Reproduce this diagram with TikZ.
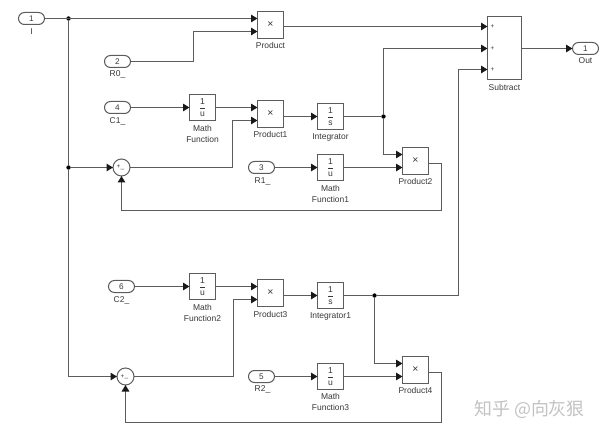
\documentclass[tikz,border=0pt]{standalone}
\usepackage{fontspec}
\setmainfont{Liberation Sans}
\newfontfamily\cjkwm{Noto Sans CJK SC}
\usetikzlibrary{arrows.meta}
\newcommand{\frc}[2]{$\displaystyle\frac{\hbox{#1}}{\hbox{\rule{0pt}{7.5pt}#2}}$}
\definecolor{ln}{gray}{0.36}
\definecolor{tx}{gray}{0.22}
\tikzset{
  x=1bp,y=-1bp,
  wire/.style={draw=ln,line width=1.2bp,-{Triangle[length=6.5bp,width=7.5bp,color=black!90]}},
  plain/.style={draw=ln,line width=1.2bp},
  blk/.style={draw=ln,line width=1.1bp,fill=white,outer sep=0pt,minimum width=26bp,minimum height=26bp,inner sep=0pt,text=tx,font=\fontsize{8.6}{9}\selectfont},
  prod/.style={blk,minimum height=27bp,font=\fontsize{10.5}{11}\selectfont},
  port/.style={draw=ln,line width=1bp,fill=white,outer sep=0pt,rounded corners=6bp,minimum width=26bp,minimum height=12bp,inner sep=0pt,text=tx,font=\fontsize{8.2}{9}\selectfont},
  sumb/.style={draw=ln,line width=1bp,circle,fill=white,outer sep=0pt,minimum size=17bp,inner sep=0pt},
  lab/.style={text=tx,font=\fontsize{8.5}{11}\selectfont,align=center,inner sep=0pt},
  sign/.style={text=tx,font=\fontsize{6.5}{7}\selectfont,inner sep=0pt},
  jct/.style={circle,fill=black,minimum size=4.4bp,inner sep=0pt},
}
\begin{document}
\begin{tikzpicture}
\useasboundingbox (0,0) rectangle (600,433);
\begin{scope}[shift={(0.5,0.5)}]
% inports and outport
\node[port] (in1) at (31,18) {1};
\node[port] (in2) at (117,61) {2};
\node[port] (in4) at (117,107) {4};
\node[port] (in3) at (261,167) {3};
\node[port] (in6) at (121,286) {6};
\node[port] (in5) at (261,376) {5};
\node[port] (out) at (585,48) {1};
% blocks
\node[prod] (p0) at (270,24.5) {×};
\node[prod] (p1) at (270,113.5) {×};
\node[prod] (p2) at (415,160.5) {×};
\node[prod] (p3) at (270,292.5) {×};
\node[prod] (p4) at (415,369.5) {×};
\node[blk] (m0) at (202,107) {\frc{1}{u}};
\node[blk] (m1) at (330,167) {\frc{1}{u}};
\node[blk] (m2) at (202,286) {\frc{1}{u}};
\node[blk] (m3) at (330,376) {\frc{1}{u}};
\node[blk] (i0) at (330,116) {\frc{1}{s}};
\node[blk] (i1) at (330,295) {\frc{1}{s}};
\node[blk,minimum width=34bp,minimum height=63bp] (sub) at (504,47.5) {};
\node[sumb] (s1) at (121,167) {};
\node[sumb] (s2) at (125,376) {};
% signs
\node[sign] (sg1) at (118,166.5) {+};
\node[sign] (sg2) at (122,168.5) {\_};
\node[sign] (sg3) at (122,376) {+};
\node[sign] (sg4) at (126,377.5) {\_};
\node[sign] (sg5) at (492,26.5) {+};
\node[sign] (sg6) at (492,48) {+};
\node[sign] (sg7) at (492,69) {+};
% labels
\node[lab] (l1) at (31,31) {I};
\node[lab] (l2) at (117,74) {R0\_};
\node[lab] (l3) at (117,120.5) {C1\_};
\node[lab] (l4) at (262,180.5) {R1\_};
\node[lab] (l5) at (121,299.5) {C2\_};
\node[lab] (l6) at (262,389) {R2\_};
\node[lab] (l7) at (585,60.5) {Out};
\node[lab] (l8) at (504,86.5) {Subtract};
\node[lab] (l9) at (270,45) {Product};
\node[lab] (l10) at (270,134) {Product1};
\node[lab] (l11) at (415,181) {Product2};
\node[lab] (l12) at (270,313.5) {Product3};
\node[lab] (l13) at (415,390) {Product4};
\node[lab] (l14) at (330,136.5) {Integrator};
\node[lab] (l15) at (330,315.5) {Integrator1};
\node[lab] (l16) at (202,133) {Math\\Function};
\node[lab] (l17) at (330,193) {Math\\Function1};
\node[lab] (l18) at (202,312) {Math\\Function2};
\node[lab] (l19) at (330,401) {Math\\Function3};
% ports on block edges
\coordinate (p0a) at (257,18); \coordinate (p0b) at (257,31);
\coordinate (p1a) at (257,107); \coordinate (p1b) at (257,120);
\coordinate (p2a) at (402,154); \coordinate (p2b) at (402,167);
\coordinate (p3a) at (257,286); \coordinate (p3b) at (257,299);
\coordinate (p4a) at (402,363); \coordinate (p4b) at (402,376);
\coordinate (suba) at (487,26); \coordinate (subb) at (487,48); \coordinate (subc) at (487,69);
% junctions
\node[jct] (j0) at (68,18) {};
\node[jct] (j1) at (68,167) {};
\node[jct] (j2) at (383,116) {};
\node[jct] (j3) at (374,295) {};
% bends
\coordinate (b0) at (193,61);
\coordinate (b1) at (232,167);
\coordinate (b2) at (233,376);
\coordinate (o2) at (428,163);
\coordinate (r2) at (441,210);
\coordinate (o4) at (428,372);
\coordinate (r4) at (441,422);
\coordinate (b3) at (458,295);
% wires
\draw[wire] (in1.east) -- (p0a);
\draw[plain] (j0) -- (j1);
\draw[wire] (j1) |- (s2.west);
\draw[wire] (j1) -- (s1.west);
\draw[wire] (in2.east) -- (b0) |- (p0b);
\draw[wire] (p0.east |- suba) -- (suba);
\draw[wire] (in4.east) -- (m0.west);
\draw[wire] (m0.east) -- (p1a);
\draw[wire] (s1.east) -- (b1) |- (p1b);
\draw[wire] (p1.east |- i0.west) -- (i0.west);
\draw[plain] (i0.east) -- (j2);
\draw[wire] (j2) |- (subb);
\draw[wire] (j2) |- (p2a);
\draw[wire] (in3.east) -- (m1.west);
\draw[wire] (m1.east) -- (p2b);
\draw[wire] (o2) -| (r2) -| (s1.south);
\draw[wire] (sub.east |- out.west) -- (out.west);
\draw[wire] (in6.east) -- (m2.west);
\draw[wire] (m2.east) -- (p3a);
\draw[wire] (s2.east) -- (b2) |- (p3b);
\draw[wire] (p3.east |- i1.west) -- (i1.west);
\draw[plain] (i1.east) -- (j3);
\draw[plain] (j3) -- (b3);
\draw[wire] (b3) |- (subc);
\draw[wire] (j3) |- (p4a);
\draw[wire] (in5.east) -- (m3.west);
\draw[wire] (m3.east) -- (p4b);
\draw[wire] (o4) -| (r4) -| (s2.south);
% watermark
\node[text=black!24,font=\cjkwm\fontsize{18}{19}\selectfont,inner sep=0pt] (wm) at (529,409) {知乎 @向灰狠};
\end{scope}
\end{tikzpicture}
\end{document}
